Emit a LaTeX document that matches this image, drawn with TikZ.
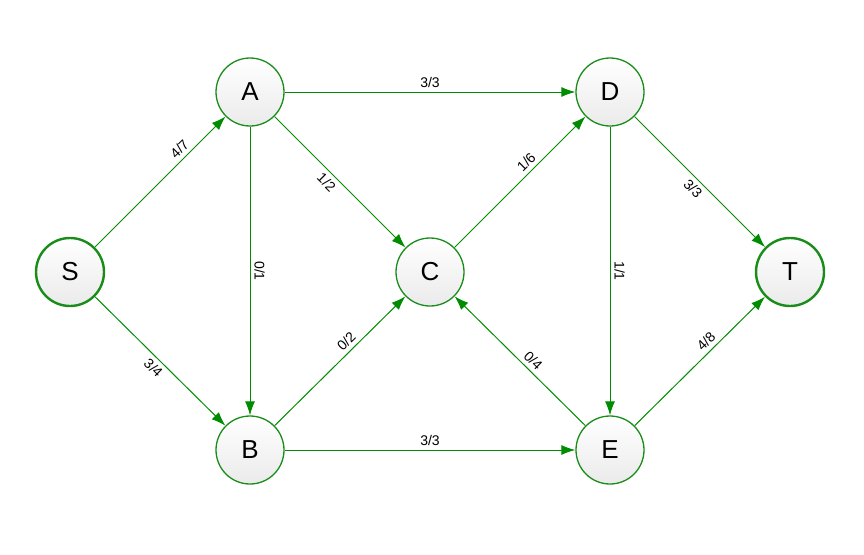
\documentclass[tikz,border=0pt]{standalone}
\usepackage{fontspec}
\setmainfont{Liberation Sans}
\usetikzlibrary{arrows.meta}
\begin{document}
\begin{tikzpicture}[x=1pt,y=-1pt,
  vtx/.style={circle,draw=green!50!black!90,line width=1.3pt,minimum size=68pt,inner sep=0pt,
    top color=white,bottom color=black!8,font=\fontsize{26}{26}\selectfont},
  term/.style={vtx,line width=2.4pt},
  arc/.style={draw=green!55!black,line width=1pt,-{Latex[length=14pt,width=10pt]}},
  lbl/.style={sloped,font=\fontsize{14}{14}\selectfont,inner sep=4pt}]
\useasboundingbox (0,0) rectangle (864,554);
\node[term] (S) at (70,272) {S};
\node[vtx] (A) at (250,92) {A};
\node[vtx] (B) at (250,450) {B};
\node[vtx] (C) at (430,272) {C};
\node[vtx] (D) at (610,92) {D};
\node[vtx] (E) at (610,450) {E};
\node[term] (T) at (790,272) {T};
\draw[arc] (S) -- node[lbl,pos=0.7,above] {4/7} (A);
\draw[arc] (S) -- node[lbl,pos=0.5,below] {3/4} (B);
\draw[arc] (A) -- node[lbl,midway,above] {3/3} (D);
\draw[arc] (A) -- node[lbl,midway,above] {0/1} (B);
\draw[arc] (A) -- node[lbl,pos=0.45,below] {1/2} (C);
\draw[arc] (B) -- node[lbl,pos=0.6,above] {0/2} (C);
\draw[arc] (B) -- node[lbl,midway,above] {3/3} (E);
\draw[arc] (C) -- node[lbl,pos=0.6,above] {1/6} (D);
\draw[arc] (D) -- node[lbl,pos=0.5,below] {3/3} (T);
\draw[arc] (D) -- node[lbl,midway,above] {1/1} (E);
\draw[arc] (E) -- node[lbl,pos=0.45,above] {0/4} (C);
\draw[arc] (E) -- node[lbl,pos=0.6,above] {4/8} (T);
\end{tikzpicture}
\end{document}
